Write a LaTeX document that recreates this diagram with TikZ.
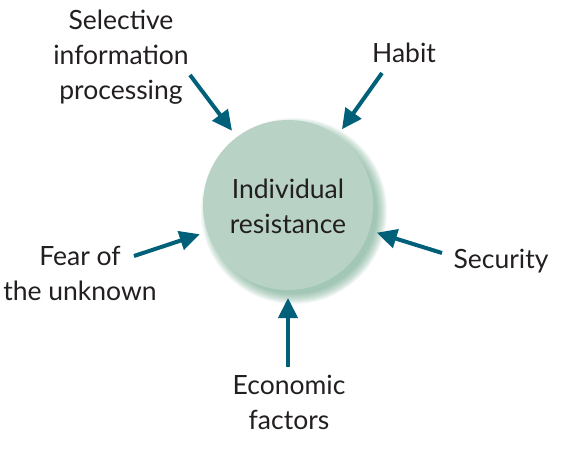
\documentclass[tikz,border=0pt]{standalone}
\usepackage{fontspec}
\setmainfont{Lato}
\usetikzlibrary{arrows.meta}
\definecolor{arrowc}{RGB}{0,96,122}
\definecolor{circc}{RGB}{184,211,198}
\definecolor{shadc}{RGB}{100,160,132}
\definecolor{textc}{RGB}{35,31,32}
\tikzset{
  lbl/.style={align=center, inner sep=0pt, anchor=base, text=textc,
    font=\fontsize{26.5}{35}\selectfont},
  arr/.style={draw=arrowc, line width=4pt,
    -{Triangle[length=20pt,width=19pt]}},
  bigc/.style={circle, fill=circc, minimum size=170pt, inner sep=0pt, outer sep=8pt}
}
\begin{document}
\begin{tikzpicture}[x=1pt,y=-1pt]
\useasboundingbox (0,0) rectangle (563,455);
% shadow
\foreach \r in {0,...,10}{
  \fill[shadc, opacity=0.08] (294,211) circle ({93-\r});
}
\node[bigc] (c) at (288,205) {};
\node[lbl] (ind) at (288,233) {Individual\\resistance};
% labels
\node[lbl] (sel) at (121,99) {Selective\\information\\processing};
\node[lbl] (hab) at (404,62) {Habit};
\node[lbl] (fear) at (80,300) {Fear of\\the unknown};
\node[lbl] (sec) at (501,268) {Security};
\node[lbl] (eco) at (289,429) {Economic\\factors};
% arrow tails
\coordinate (tsel) at (190,75);
\coordinate (thab) at (382,73);
\coordinate (tfear) at (134,256);
\coordinate (tsec) at (442,253);
\coordinate (teco) at (288,367);
\draw[arr] (tsel) -- (c);
\draw[arr] (thab) -- (c);
\draw[arr] (tfear) -- (c);
\draw[arr] (tsec) -- (c);
\draw[arr] (teco) -- (c);
\end{tikzpicture}
\end{document}
